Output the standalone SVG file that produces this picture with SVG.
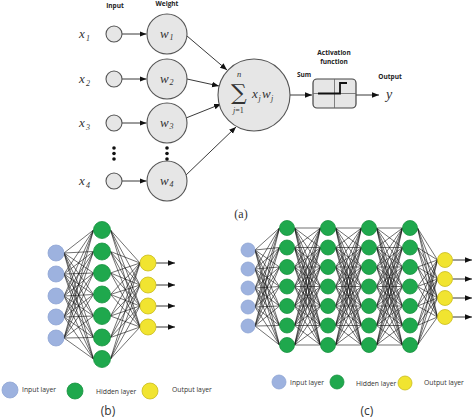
<svg xmlns="http://www.w3.org/2000/svg" xmlns:xlink="http://www.w3.org/1999/xlink" width="474" height="420" viewBox="0 0 474 420">
<style>
.gc{fill:#e6e6e6;stroke:#555;stroke-width:1.1}
.lbl{font-family:"Open Sans","DejaVu Sans",sans-serif;font-weight:bold;font-size:6.5px;fill:#222;text-anchor:middle}
.m{font-family:"Liberation Serif","DejaVu Serif",serif;font-style:italic;fill:#333}
.ln{stroke:#222;stroke-width:0.9;fill:none}
.net{stroke:#111;stroke-width:0.6;fill:none}
.bl{fill:#9db2df;stroke:#8ea4d4;stroke-width:0.8}
.gr{fill:#1fa84d;stroke:#17923f;stroke-width:0.8}
.ye{fill:#f1e430;stroke:#c9bb1c;stroke-width:0.8}
.lg{font-family:"Open Sans","DejaVu Sans",sans-serif;font-size:6.8px;fill:#333}
.cap{font-family:"Open Sans","DejaVu Sans",sans-serif;font-size:12px;fill:#333;text-anchor:middle}
.dot{fill:#111}
</style>
<defs>
<marker id="ah" viewBox="0 0 10 10" refX="10" refY="5" markerWidth="7" markerHeight="7" markerUnits="userSpaceOnUse" orient="auto"><path d="M0 1L10 5L0 9z" fill="#111"/></marker>
<path id="gg" class="net" d="M0 228L26 228M0 228L26 247.5M0 228L26 267M0 228L26 286.5M0 228L26 306M0 228L26 325.5M0 228L26 345M0 247.5L26 228M0 247.5L26 247.5M0 247.5L26 267M0 247.5L26 286.5M0 247.5L26 306M0 247.5L26 325.5M0 247.5L26 345M0 267L26 228M0 267L26 247.5M0 267L26 267M0 267L26 286.5M0 267L26 306M0 267L26 325.5M0 267L26 345M0 286.5L26 228M0 286.5L26 247.5M0 286.5L26 267M0 286.5L26 286.5M0 286.5L26 306M0 286.5L26 325.5M0 286.5L26 345M0 306L26 228M0 306L26 247.5M0 306L26 267M0 306L26 286.5M0 306L26 306M0 306L26 325.5M0 306L26 345M0 325.5L26 228M0 325.5L26 247.5M0 325.5L26 267M0 325.5L26 286.5M0 325.5L26 306M0 325.5L26 325.5M0 325.5L26 345M0 345L26 228M0 345L26 247.5M0 345L26 267M0 345L26 286.5M0 345L26 306M0 345L26 325.5M0 345L26 345"/>
</defs>

<!-- (a) connectors -->
<g id="connectors-a" class="ln">
<path d="M122 34H146.5" marker-end="url(#ah)"/>
<path d="M122 79H146.5" marker-end="url(#ah)"/>
<path d="M122 123H146.5" marker-end="url(#ah)"/>
<path d="M122 181H146.5" marker-end="url(#ah)"/>
<path d="M187 36L227 70" marker-end="url(#ah)"/>
<path d="M187 79L219 86" marker-end="url(#ah)"/>
<path d="M186 118L221 104" marker-end="url(#ah)"/>
<path d="M185 176L236 127" marker-end="url(#ah)"/>
<path d="M290 95H312" marker-end="url(#ah)"/>
<path d="M356 95H379" marker-end="url(#ah)"/>
</g>

<text class="lbl" x="115" y="8">Input</text>
<text class="lbl" x="167" y="6">Weight</text>

<g id="x1"><text class="m" x="79" y="38" font-size="13">x</text><text class="m" x="86" y="41" font-size="8" font-style="normal">1</text></g>
<g id="x2"><text class="m" x="79" y="83" font-size="13">x</text><text class="m" x="86" y="86" font-size="8" font-style="normal">2</text></g>
<g id="x3"><text class="m" x="79" y="127" font-size="13">x</text><text class="m" x="86" y="130" font-size="8" font-style="normal">3</text></g>
<g id="x4"><text class="m" x="79" y="185" font-size="13">x</text><text class="m" x="86" y="188" font-size="8" font-style="normal">4</text></g>

<g id="in1"><circle class="gc" cx="114" cy="34" r="8"/></g>
<g id="in2"><circle class="gc" cx="114" cy="79" r="8"/></g>
<g id="in3"><circle class="gc" cx="114" cy="123" r="8"/></g>
<g id="in4"><circle class="gc" cx="114" cy="181" r="8"/></g>

<g id="w1"><circle class="gc" cx="167" cy="34" r="20"/><text class="m" x="160" y="38" font-size="13">w</text><text class="m" x="169.5" y="40" font-size="8" font-style="normal">1</text></g>
<g id="w2"><circle class="gc" cx="167" cy="79" r="20"/><text class="m" x="160" y="83" font-size="13">w</text><text class="m" x="169.5" y="85" font-size="8" font-style="normal">2</text></g>
<g id="w3"><circle class="gc" cx="167" cy="123" r="20"/><text class="m" x="160" y="127" font-size="13">w</text><text class="m" x="169.5" y="129" font-size="8" font-style="normal">3</text></g>
<g id="w4"><circle class="gc" cx="167" cy="181" r="20"/><text class="m" x="160" y="185" font-size="13">w</text><text class="m" x="169.5" y="187" font-size="8" font-style="normal">4</text></g>

<g id="dots">
<circle class="dot" cx="114" cy="148" r="1.8"/><circle class="dot" cx="114" cy="153.5" r="1.8"/><circle class="dot" cx="114" cy="159" r="1.8"/>
<circle class="dot" cx="167" cy="148" r="1.8"/><circle class="dot" cx="167" cy="153.5" r="1.8"/><circle class="dot" cx="167" cy="159" r="1.8"/>
</g>

<g id="sum">
<circle class="gc" cx="254" cy="95" r="36"/>
<text x="231" y="100" font-family="DejaVu Serif,serif" font-size="22" fill="#333">∑</text>
<text class="m" x="237" y="77" font-size="8.5">n</text>
<text x="233" y="113" font-family="Liberation Serif,serif" font-size="8" fill="#333"><tspan font-style="italic">j</tspan>=1</text>
<text class="m" x="252" y="98" font-size="13">x</text><text class="m" x="258.5" y="101" font-size="8">j</text>
<text class="m" x="262" y="98" font-size="13">w</text><text class="m" x="271" y="101" font-size="8">j</text>
</g>

<text class="lbl" x="304" y="77">Sum</text>

<g id="activation">
<text class="lbl" x="334" y="55">Activation</text>
<text class="lbl" x="334" y="63.5">function</text>
<rect x="313" y="79" width="43" height="29" rx="4" fill="#e6e6e6" stroke="#444" stroke-width="1.2"/>
<path d="M334.5 79V108M313 93.5H356" stroke="#666" stroke-width="0.8" fill="none"/>
<path d="M318 93.5H340V83H347" stroke="#111" stroke-width="1.8" fill="none"/>
</g>

<g id="output">
<text class="lbl" x="390" y="79">Output</text>
<text class="m" x="386" y="99" font-size="14">y</text>
</g>

<text x="241" y="218" font-family="Liberation Serif,DejaVu Serif,serif" font-size="12" fill="#333" text-anchor="middle">(a)</text>

<!-- (b) connectors -->
<g id="connectors-b">
<path class="net" d="M64 253L93.5 230M64 253L93.5 251.5M64 253L93.5 273M64 253L93.5 294.5M64 253L93.5 316M64 253L93.5 337.5M64 253L93.5 359M64 274L93.5 230M64 274L93.5 251.5M64 274L93.5 273M64 274L93.5 294.5M64 274L93.5 316M64 274L93.5 337.5M64 274L93.5 359M64 296L93.5 230M64 296L93.5 251.5M64 296L93.5 273M64 296L93.5 294.5M64 296L93.5 316M64 296L93.5 337.5M64 296L93.5 359M64 317L93.5 230M64 317L93.5 251.5M64 317L93.5 273M64 317L93.5 294.5M64 317L93.5 316M64 317L93.5 337.5M64 317L93.5 359M64 338L93.5 230M64 338L93.5 251.5M64 338L93.5 273M64 338L93.5 294.5M64 338L93.5 316M64 338L93.5 337.5M64 338L93.5 359"/>
<path class="net" d="M110.5 230L140 263M110.5 230L140 285M110.5 230L140 306M110.5 230L140 327M110.5 251.5L140 263M110.5 251.5L140 285M110.5 251.5L140 306M110.5 251.5L140 327M110.5 273L140 263M110.5 273L140 285M110.5 273L140 306M110.5 273L140 327M110.5 294.5L140 263M110.5 294.5L140 285M110.5 294.5L140 306M110.5 294.5L140 327M110.5 316L140 263M110.5 316L140 285M110.5 316L140 306M110.5 316L140 327M110.5 337.5L140 263M110.5 337.5L140 285M110.5 337.5L140 306M110.5 337.5L140 327M110.5 359L140 263M110.5 359L140 285M110.5 359L140 306M110.5 359L140 327"/>
<path class="ln" d="M156 263H175" marker-end="url(#ah)"/>
<path class="ln" d="M156 285H175" marker-end="url(#ah)"/>
<path class="ln" d="M156 306H175" marker-end="url(#ah)"/>
<path class="ln" d="M156 327H175" marker-end="url(#ah)"/>
</g>

<g id="b-input">
<circle class="bl" cx="56" cy="253" r="8"/><circle class="bl" cx="56" cy="274" r="8"/><circle class="bl" cx="56" cy="296" r="8"/><circle class="bl" cx="56" cy="317" r="8"/><circle class="bl" cx="56" cy="338" r="8"/>
</g>
<g id="b-hidden">
<circle class="gr" cx="102" cy="230" r="8.5"/><circle class="gr" cx="102" cy="251.5" r="8.5"/><circle class="gr" cx="102" cy="273" r="8.5"/><circle class="gr" cx="102" cy="294.5" r="8.5"/><circle class="gr" cx="102" cy="316" r="8.5"/><circle class="gr" cx="102" cy="337.5" r="8.5"/><circle class="gr" cx="102" cy="359" r="8.5"/>
</g>
<g id="b-output">
<circle class="ye" cx="148" cy="263" r="8"/><circle class="ye" cx="148" cy="285" r="8"/><circle class="ye" cx="148" cy="306" r="8"/><circle class="ye" cx="148" cy="327" r="8"/>
</g>

<g id="b-legend">
<circle class="bl" cx="10" cy="390" r="8"/><text class="lg" x="22" y="392">Input layer</text>
<circle class="gr" cx="75" cy="391" r="8"/><text class="lg" x="96" y="394">Hidden layer</text>
<circle class="ye" cx="150" cy="391" r="8"/><text class="lg" x="172" y="392">Output layer</text>
</g>
<text class="cap" x="108" y="415">(b)</text>

<!-- (c) connectors -->
<g id="connectors-c">
<path class="net" d="M255 250L279.5 228M255 250L279.5 247.5M255 250L279.5 267M255 250L279.5 286.5M255 250L279.5 306M255 250L279.5 325.5M255 250L279.5 345M255 269L279.5 228M255 269L279.5 247.5M255 269L279.5 267M255 269L279.5 286.5M255 269L279.5 306M255 269L279.5 325.5M255 269L279.5 345M255 288L279.5 228M255 288L279.5 247.5M255 288L279.5 267M255 288L279.5 286.5M255 288L279.5 306M255 288L279.5 325.5M255 288L279.5 345M255 307L279.5 228M255 307L279.5 247.5M255 307L279.5 267M255 307L279.5 286.5M255 307L279.5 306M255 307L279.5 325.5M255 307L279.5 345M255 326L279.5 228M255 326L279.5 247.5M255 326L279.5 267M255 326L279.5 286.5M255 326L279.5 306M255 326L279.5 325.5M255 326L279.5 345"/>
<use xlink:href="#gg" href="#gg" transform="translate(294.5 0)"/>
<use xlink:href="#gg" href="#gg" transform="translate(335.5 0)"/>
<use xlink:href="#gg" href="#gg" transform="translate(376.5 0)"/>
<path class="net" d="M417.5 228L437.5 260M417.5 228L437.5 279M417.5 228L437.5 298M417.5 228L437.5 317M417.5 247.5L437.5 260M417.5 247.5L437.5 279M417.5 247.5L437.5 298M417.5 247.5L437.5 317M417.5 267L437.5 260M417.5 267L437.5 279M417.5 267L437.5 298M417.5 267L437.5 317M417.5 286.5L437.5 260M417.5 286.5L437.5 279M417.5 286.5L437.5 298M417.5 286.5L437.5 317M417.5 306L437.5 260M417.5 306L437.5 279M417.5 306L437.5 298M417.5 306L437.5 317M417.5 325.5L437.5 260M417.5 325.5L437.5 279M417.5 325.5L437.5 298M417.5 325.5L437.5 317M417.5 345L437.5 260M417.5 345L437.5 279M417.5 345L437.5 298M417.5 345L437.5 317"/>
<path class="ln" d="M452.5 260H472" marker-end="url(#ah)"/>
<path class="ln" d="M452.5 279H472" marker-end="url(#ah)"/>
<path class="ln" d="M452.5 298H472" marker-end="url(#ah)"/>
<path class="ln" d="M452.5 317H472" marker-end="url(#ah)"/>
</g>

<g id="c-input">
<circle class="bl" cx="248" cy="250" r="7"/><circle class="bl" cx="248" cy="269" r="7"/><circle class="bl" cx="248" cy="288" r="7"/><circle class="bl" cx="248" cy="307" r="7"/><circle class="bl" cx="248" cy="326" r="7"/>
</g>
<g id="c-hidden-1">
<circle class="gr" cx="287" cy="228" r="7.5"/><circle class="gr" cx="287" cy="247.5" r="7.5"/><circle class="gr" cx="287" cy="267" r="7.5"/><circle class="gr" cx="287" cy="286.5" r="7.5"/><circle class="gr" cx="287" cy="306" r="7.5"/><circle class="gr" cx="287" cy="325.5" r="7.5"/><circle class="gr" cx="287" cy="345" r="7.5"/>
</g>
<g id="c-hidden-2">
<circle class="gr" cx="328" cy="228" r="7.5"/><circle class="gr" cx="328" cy="247.5" r="7.5"/><circle class="gr" cx="328" cy="267" r="7.5"/><circle class="gr" cx="328" cy="286.5" r="7.5"/><circle class="gr" cx="328" cy="306" r="7.5"/><circle class="gr" cx="328" cy="325.5" r="7.5"/><circle class="gr" cx="328" cy="345" r="7.5"/>
</g>
<g id="c-hidden-3">
<circle class="gr" cx="369" cy="228" r="7.5"/><circle class="gr" cx="369" cy="247.5" r="7.5"/><circle class="gr" cx="369" cy="267" r="7.5"/><circle class="gr" cx="369" cy="286.5" r="7.5"/><circle class="gr" cx="369" cy="306" r="7.5"/><circle class="gr" cx="369" cy="325.5" r="7.5"/><circle class="gr" cx="369" cy="345" r="7.5"/>
</g>
<g id="c-hidden-4">
<circle class="gr" cx="410" cy="228" r="7.5"/><circle class="gr" cx="410" cy="247.5" r="7.5"/><circle class="gr" cx="410" cy="267" r="7.5"/><circle class="gr" cx="410" cy="286.5" r="7.5"/><circle class="gr" cx="410" cy="306" r="7.5"/><circle class="gr" cx="410" cy="325.5" r="7.5"/><circle class="gr" cx="410" cy="345" r="7.5"/>
</g>
<g id="c-output">
<circle class="ye" cx="445" cy="260" r="7.5"/><circle class="ye" cx="445" cy="279" r="7.5"/><circle class="ye" cx="445" cy="298" r="7.5"/><circle class="ye" cx="445" cy="317" r="7.5"/>
</g>

<g id="c-legend">
<circle class="bl" cx="279" cy="382" r="7"/><text class="lg" x="290" y="385">Input layer</text>
<circle class="gr" cx="337" cy="382" r="7"/><text class="lg" x="356" y="386">Hidden layer</text>
<circle class="ye" cx="405" cy="383" r="7"/><text class="lg" x="424" y="385">Output layer</text>
</g>
<text class="cap" x="367" y="415">(c)</text>
</svg>
